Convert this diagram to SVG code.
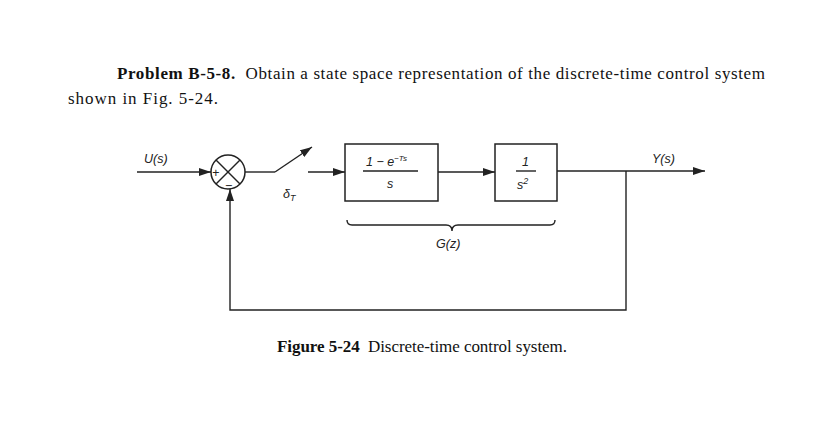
<svg xmlns="http://www.w3.org/2000/svg" width="828" height="430" viewBox="0 0 828 430">
<defs>
<marker id="ah" markerWidth="12" markerHeight="8" refX="12" refY="4" orient="auto" markerUnits="userSpaceOnUse"><path d="M0,0 L12,4 L0,8 z" fill="#222"/></marker>
<style>
.ln{stroke:#222;stroke-width:1.4;fill:none}
.bx{stroke:#222;stroke-width:1.5;fill:none}
.t{font-family:"Liberation Serif",serif;font-size:17px;fill:#111}
.m{font-family:"Liberation Sans",sans-serif;font-style:italic;font-size:12.5px;fill:#222}
</style>
</defs>
<rect width="828" height="430" fill="#fff"/>
<text class="t" x="117" y="79" textLength="648" lengthAdjust="spacing" xml:space="preserve"><tspan font-weight="bold">Problem B-5-8.</tspan>  Obtain a state space representation of the discrete-time control system</text>
<text class="t" x="68" y="104" textLength="150" lengthAdjust="spacing">shown in Fig. 5-24.</text>
<g id="sum">
<circle cx="228" cy="172" r="17" class="bx"/>
<line x1="216" y1="160" x2="240" y2="184" class="ln"/>
<line x1="240" y1="160" x2="216" y2="184" class="ln"/>
<text class="m" x="212" y="177" font-style="normal" font-size="12">+</text>
<text class="m" x="225" y="190" font-style="normal" font-size="12">−</text>
</g>
<g id="switch">
<line x1="245" y1="172" x2="275" y2="172" class="ln"/>
<line x1="275" y1="172" x2="312" y2="147" class="ln" marker-end="url(#ah)"/>
<text class="m" x="283" y="198">δ<tspan font-size="9" dy="3">T</tspan></text>
</g>
<g id="zoh">
<rect x="345" y="144" width="93" height="57" class="bx"/>
<text class="m" x="366" y="166">1 − e<tspan font-size="8" dy="-5">−Ts</tspan></text>
<line x1="363" y1="171" x2="418" y2="171" class="ln" stroke-width="1"/>
<text class="m" x="387" y="188">s</text>
</g>
<g id="plant">
<rect x="495" y="144" width="62" height="57" class="bx"/>
<text class="m" x="522" y="166" font-style="normal">1</text>
<line x1="516" y1="171" x2="536" y2="171" class="ln" stroke-width="1"/>
<text class="m" x="517" y="189">s<tspan font-size="9" dy="-5">2</tspan></text>
</g>
<g id="connectors">
<line x1="137" y1="172" x2="211" y2="172" class="ln" marker-end="url(#ah)"/>
<line x1="308" y1="172" x2="345" y2="172" class="ln" marker-end="url(#ah)"/>
<line x1="438" y1="172" x2="495" y2="172" class="ln" marker-end="url(#ah)"/>
<line x1="557" y1="171" x2="705" y2="171" class="ln" marker-end="url(#ah)"/>
<polyline points="626,171 626,310 230,310 230,189" class="ln" marker-end="url(#ah)"/>
<path d="M347,220 Q347,225 352,225 L446,225 Q452,225 452,231 Q452,225 458,225 L550,225 Q555,225 555,220" class="ln" stroke-width="1.1"/>
</g>
<text class="m" x="144" y="163">U(s)</text>
<text class="m" x="652" y="163">Y(s)</text>
<text class="m" x="436" y="248">G(z)</text>
<text class="t" x="277" y="352" textLength="290" lengthAdjust="spacing" xml:space="preserve"><tspan font-weight="bold">Figure 5-24</tspan>  Discrete-time control system.</text>
</svg>
